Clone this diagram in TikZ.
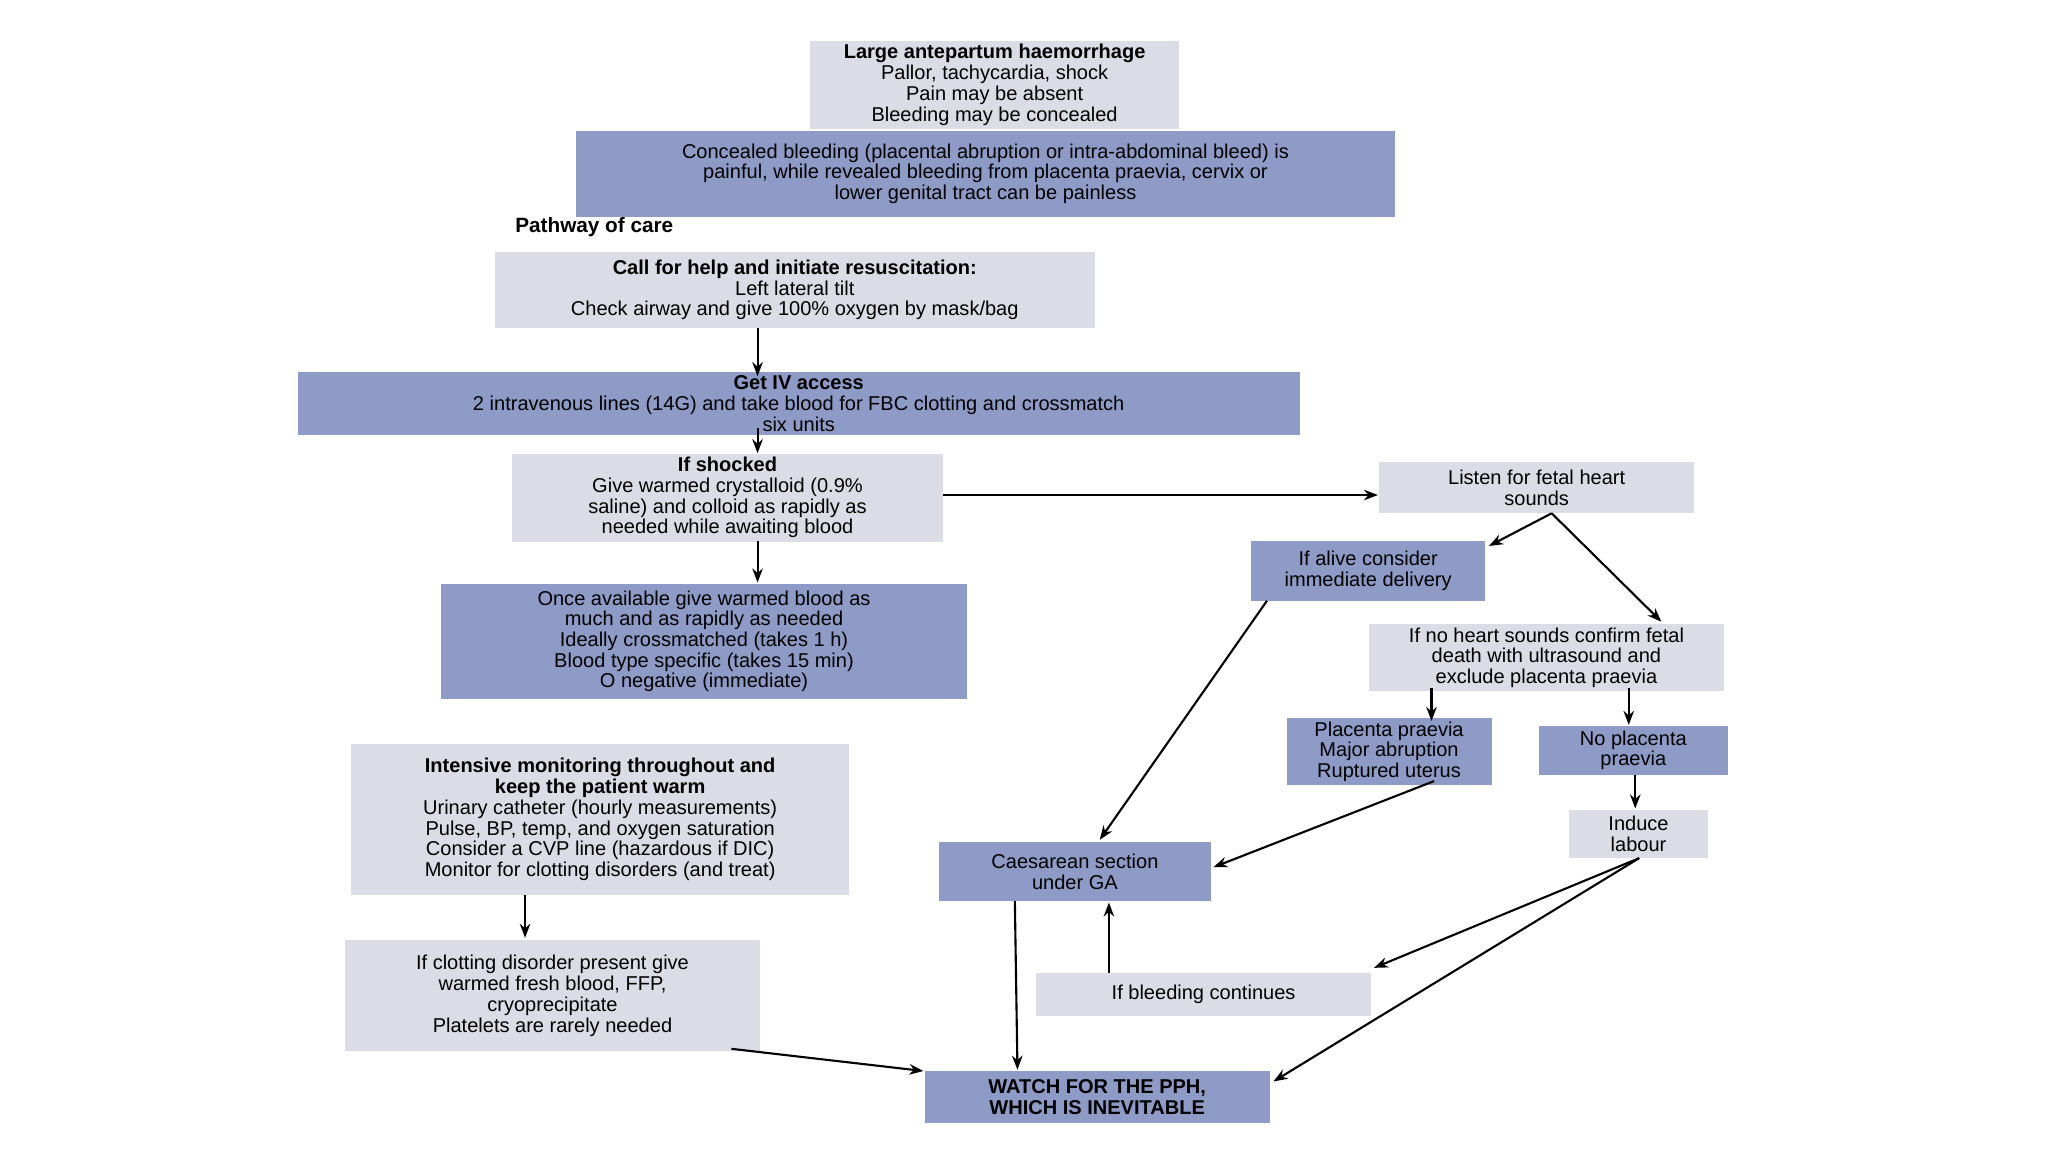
\documentclass[tikz,border=0pt]{standalone}
\usepackage{fontspec}
\setmainfont{Liberation Sans}
\usetikzlibrary{arrows.meta}
\definecolor{lg}{HTML}{DCDCE6}
\definecolor{bl}{HTML}{8E9BC6}
\tikzset{
 bx/.style={inner sep=1pt,align=center,font=\fontsize{5.7}{5.9}\selectfont},
 lbox/.style={bx,fill=lg},
 bbox/.style={bx,fill=bl},
 arr/.style={-{Stealth[length=4pt,width=3pt]},line width=0.6pt}
}
\newcommand{\bxat}[6]{% style,name,x1,y1,x2,y2 ; text follows
 \node[#1,minimum width={(#5-#3)*0.01306cm},minimum height={(#6-#4)*0.01306cm}] (#2) at ({(#3+#5)/2},{(#4+#6)/2})}
\begin{document}
\begin{tikzpicture}[x=0.01306cm,y=-0.01306cm]
\useasboundingbox[fill=white] (0,0) rectangle (1568,882);
\bxat{lbox}{a}{620}{32}{903}{98}{\textbf{Large antepartum haemorrhage}\\Pallor, tachycardia, shock\\Pain may be absent\\Bleeding may be concealed};
\bxat{bbox}{b}{441}{100}{1068}{166}{Concealed bleeding (placental abruption or intra-abdominal bleed) is\\painful, while revealed bleeding from placenta praevia, cervix or\\lower genital tract can be painless};
\node[bx,font=\fontsize{5.9}{6.2}\selectfont\bfseries] (p) at (455,174) {Pathway of care};
\bxat{lbox}{c}{379}{193}{838}{251}{\textbf{Call for help and initiate resuscitation:}\\Left lateral tilt\\Check airway and give 100\% oxygen by mask/bag};
\bxat{bbox}{d}{228}{290}{995}{328}{\textbf{Get IV access}\\2 intravenous lines (14G) and take blood for FBC clotting and crossmatch\\six units};
\bxat{lbox}{e}{392}{348}{722}{414}{\textbf{If shocked}\\Give warmed crystalloid (0.9\%\\saline) and colloid as rapidly as\\needed while awaiting blood};
\bxat{bbox}{f}{338}{447}{740}{535}{Once available give warmed blood as\\much and as rapidly as needed\\Ideally crossmatched (takes 1 h)\\Blood type specific (takes 15 min)\\O negative (immediate)};
\bxat{lbox}{g}{1056}{354}{1297}{393}{Listen for fetal heart\\sounds};
\bxat{bbox}{h}{958}{414}{1137}{460}{If alive consider\\immediate delivery};
\bxat{lbox}{i}{1048}{480}{1320}{527}{If no heart sounds confirm fetal\\death with ultrasound and\\exclude placenta praevia};
\bxat{bbox}{j}{985}{553}{1142}{598}{Placenta praevia\\Major abruption\\Ruptured uterus};
\bxat{bbox}{k}{1178}{556}{1323}{593}{No placenta\\praevia};
\bxat{lbox}{l}{1201}{620}{1308}{657}{Induce\\labour};
\bxat{bbox}{m}{719}{645}{927}{690}{Caesarean section\\under GA};
\bxat{lbox}{n}{269}{570}{650}{685}{\textbf{Intensive monitoring throughout and}\\\textbf{keep the patient warm}\\Urinary catheter (hourly measurements)\\Pulse, BP, temp, and oxygen saturation\\Consider a CVP line (hazardous if DIC)\\Monitor for clotting disorders (and treat)};
\bxat{lbox}{o}{264}{720}{582}{805}{If clotting disorder present give\\warmed fresh blood, FFP,\\cryoprecipitate\\Platelets are rarely needed};
\bxat{lbox}{q}{793}{745}{1050}{778}{If bleeding continues};
\bxat{bbox}{r}{708}{820}{972}{860}{\textbf{WATCH FOR THE PPH,}\\\textbf{WHICH IS INEVITABLE}};
\draw[arr] (580,251) -- (580,288);
\draw[arr] (580,328) -- (580,347);
\draw[arr] (580,414) -- (580,446);
\draw[arr] (722,379) -- (1055,379);
\coordinate (gb) at (1188,393);
\draw[arr] (gb) -- (1140,418);
\draw[arr] (gb) -- (1272,476);
\draw[arr] (970,460) -- (842,643);
\draw[arr] (1096,527) -- (1096,552);
\draw[arr] (1247,527) -- (1247,555);
\draw[arr] (1252,593) -- (1252,619);
\draw[arr] (1098,598) -- (929,664);
\draw[arr] (1255,657) -- (1052,741);
\draw[arr] (1255,657) -- (975,828);
\draw[arr] (849,745) -- (849,691);
\draw[arr] (777,690) -- (779,819);
\draw[arr] (402,685) -- (402,718);
\draw[arr] (560,803) -- (707,820);
\end{tikzpicture}
\end{document}
